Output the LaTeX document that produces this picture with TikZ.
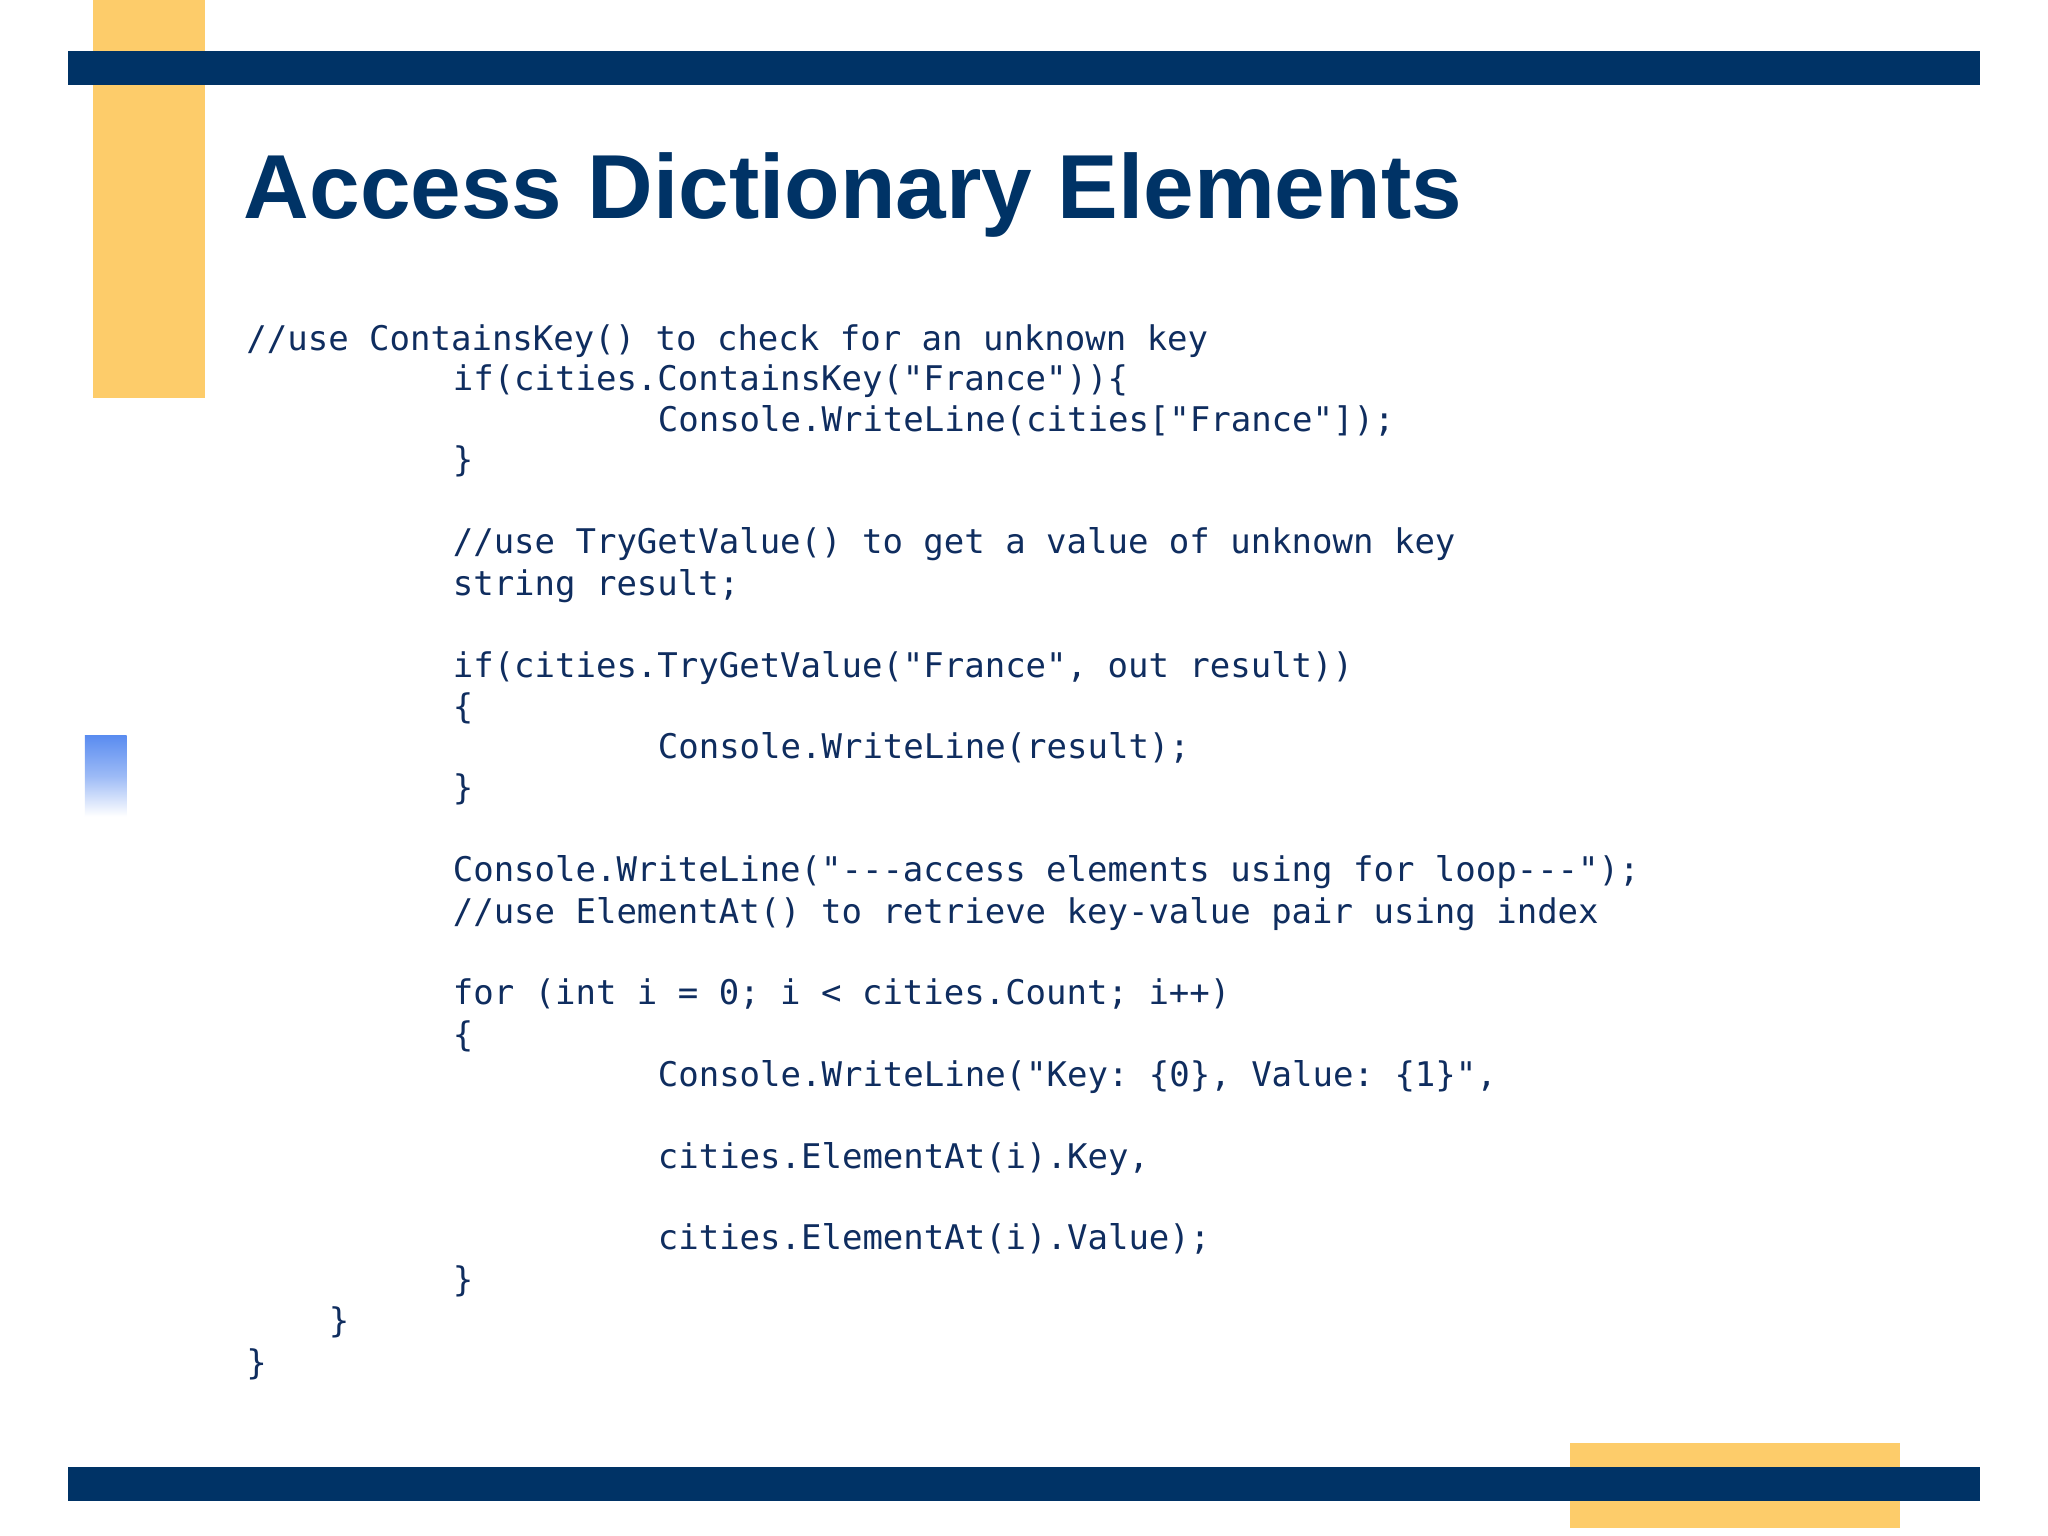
\documentclass[tikz,border=0pt]{standalone}
\usepackage{fontspec}
\setmainfont{Liberation Sans}
\setmonofont{DejaVu Sans Mono}
\definecolor{navy}{RGB}{0,51,102}
\definecolor{gold}{RGB}{253,204,106}
\definecolor{codeblue}{RGB}{15,45,95}
\definecolor{sqblue}{RGB}{90,140,240}
\begin{document}
\begin{tikzpicture}[x=0.01cm,y=-0.01cm,
  code/.style={anchor=base west,inner sep=0,text=codeblue,font=\ttfamily\fontsize{7.4pt}{8pt}\selectfont}]
\useasboundingbox (0,0) rectangle (1568,1176);
\fill[white] (0,0) rectangle (1568,1176);
\fill[gold] (71,0) rectangle (157,305);
\fill[gold] (1202,1105) rectangle (1455,1170);
\fill[navy] (52,39) rectangle (1516,65);
\fill[navy] (52,1123) rectangle (1516,1149);
\shade[top color=sqblue,bottom color=white,middle color=sqblue!60] (65,563) rectangle (97,625);
\node[anchor=base west,inner sep=0,text=navy,font=\bfseries\fontsize{19.8pt}{22pt}\selectfont] (title) at (186,167) {Access Dictionary Elements};
\def\ia{188}\def\ib{346}\def\ic{503}\def\id{251}
\node[code] (l1) at (\ia,268) {//use ContainsKey() to check for an unknown key};
\node[code] (l2) at (\ib,299) {if(cities.ContainsKey("France"))\{};
\node[code] (l3) at (\ic,330) {Console.WriteLine(cities["France"]);};
\node[code] (l4) at (\ib,361) {\}};
\node[code] (l5) at (\ib,424) {//use TryGetValue() to get a value of unknown key};
\node[code] (l6) at (\ib,456) {string result;};
\node[code] (l7) at (\ib,519) {if(cities.TryGetValue("France", out result))};
\node[code] (l8) at (\ib,550) {\{};
\node[code] (l9) at (\ic,581) {Console.WriteLine(result);};
\node[code] (l10) at (\ib,612) {\}};
\node[code] (l11) at (\ib,675) {Console.WriteLine("-{}-{}-access elements using for loop-{}-{}-");};
\node[code] (l12) at (\ib,707) {//use ElementAt() to retrieve key-value pair using index};
\node[code] (l13) at (\ib,769) {for (int i = 0; i < cities.Count; i++)};
\node[code] (l14) at (\ib,801) {\{};
\node[code] (l15) at (\ic,832) {Console.WriteLine("Key: \{0\}, Value: \{1\}",};
\node[code] (l16) at (\ic,895) {cities.ElementAt(i).Key,};
\node[code] (l17) at (\ic,957) {cities.ElementAt(i).Value);};
\node[code] (l18) at (\ib,989) {\}};
\node[code] (l19) at (\id,1020) {\}};
\node[code] (l20) at (\ia,1052) {\}};
\end{tikzpicture}
\end{document}
